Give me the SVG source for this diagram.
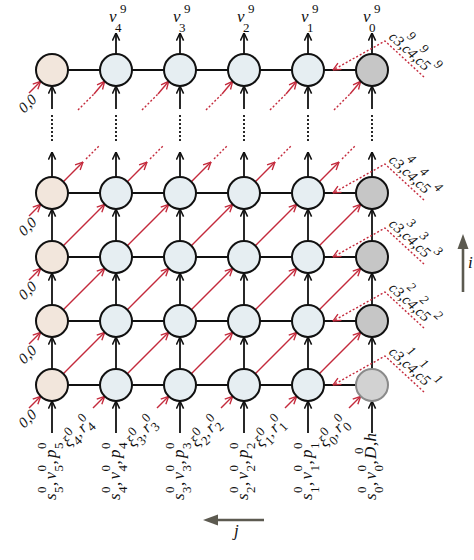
<svg xmlns="http://www.w3.org/2000/svg" width="474" height="560" viewBox="0 0 474 560">
<style>
.ln{stroke:#111;stroke-width:1.8;fill:none}
.dt{stroke:#111;stroke-width:1.8;fill:none;stroke-dasharray:2 2}
.ar{marker-end:url(#ah)}
.rd{stroke:#c42a3c;stroke-width:1.4;fill:none}
.rdd{stroke:#c42a3c;stroke-width:1.4;fill:none;stroke-dasharray:2 2}
.ra{marker-end:url(#rh)}
circle{stroke:#111;stroke-width:2}
.b{fill:#f2e6dc}.l{fill:#e6eef2}.g{fill:#c6c6c6}.gl{fill:#d2d2d2;stroke:#8a8a8a}
text{font-family:"Liberation Serif",serif;fill:#111}
.it{font-style:italic}
.m16{font-size:16px}
.m17{font-size:17px}
.sc{font-size:13px;font-style:normal}
.cl{font-size:15px;font-style:italic}
.cs{font-size:13px;font-style:italic}
.zz{font-size:15px;font-style:italic}
</style>
<defs>
<marker id="ah" viewBox="0 0 10 10" refX="9.5" refY="5" markerWidth="9" markerHeight="9" markerUnits="userSpaceOnUse" orient="auto"><path d="M1,1 L9.5,5 L1,9" fill="none" stroke="#111" stroke-width="1.7"/></marker>
<marker id="rh" viewBox="0 0 10 10" refX="9.5" refY="5" markerWidth="9" markerHeight="9" markerUnits="userSpaceOnUse" orient="auto"><path d="M1,1 L9.5,5 L1,9" fill="none" stroke="#c42a3c" stroke-width="1.5"/></marker>
</defs>
<rect width="474" height="560" fill="#fff"/>
<g id="connectors">
<line class="ln" x1="52" y1="70" x2="372" y2="70"/>
<line class="ln" x1="52" y1="193" x2="372" y2="193"/>
<line class="ln" x1="52" y1="257" x2="372" y2="257"/>
<line class="ln" x1="52" y1="321" x2="372" y2="321"/>
<line class="ln" x1="52" y1="385" x2="372" y2="385"/>
<line class="ln ar" x1="116" y1="54" x2="116" y2="33"/>
<line class="ln ar" x1="180" y1="54" x2="180" y2="33"/>
<line class="ln ar" x1="244" y1="54" x2="244" y2="33"/>
<line class="ln ar" x1="308" y1="54" x2="308" y2="33"/>
<line class="ln ar" x1="372" y1="54" x2="372" y2="33"/>
<g id="vcols">
<line class="ln ar" x1="52" y1="109" x2="52" y2="86"/><line class="dt" x1="52" y1="115" x2="52" y2="142"/><line class="ln ar" x1="52" y1="177" x2="52" y2="152"/>
<line class="ln ar" x1="116" y1="109" x2="116" y2="86"/><line class="dt" x1="116" y1="115" x2="116" y2="142"/><line class="ln ar" x1="116" y1="177" x2="116" y2="152"/>
<line class="ln ar" x1="180" y1="109" x2="180" y2="86"/><line class="dt" x1="180" y1="115" x2="180" y2="142"/><line class="ln ar" x1="180" y1="177" x2="180" y2="152"/>
<line class="ln ar" x1="244" y1="109" x2="244" y2="86"/><line class="dt" x1="244" y1="115" x2="244" y2="142"/><line class="ln ar" x1="244" y1="177" x2="244" y2="152"/>
<line class="ln ar" x1="308" y1="109" x2="308" y2="86"/><line class="dt" x1="308" y1="115" x2="308" y2="142"/><line class="ln ar" x1="308" y1="177" x2="308" y2="152"/>
<line class="ln ar" x1="372" y1="109" x2="372" y2="86"/><line class="dt" x1="372" y1="115" x2="372" y2="142"/><line class="ln ar" x1="372" y1="177" x2="372" y2="152"/>
</g>
<g id="vgrid">
<line class="ln ar" x1="52" y1="241" x2="52" y2="209"/><line class="ln ar" x1="52" y1="305" x2="52" y2="273"/><line class="ln ar" x1="52" y1="369" x2="52" y2="337"/><line class="ln ar" x1="52" y1="433" x2="52" y2="401"/>
<line class="ln ar" x1="116" y1="241" x2="116" y2="209"/><line class="ln ar" x1="116" y1="305" x2="116" y2="273"/><line class="ln ar" x1="116" y1="369" x2="116" y2="337"/><line class="ln ar" x1="116" y1="433" x2="116" y2="401"/>
<line class="ln ar" x1="180" y1="241" x2="180" y2="209"/><line class="ln ar" x1="180" y1="305" x2="180" y2="273"/><line class="ln ar" x1="180" y1="369" x2="180" y2="337"/><line class="ln ar" x1="180" y1="433" x2="180" y2="401"/>
<line class="ln ar" x1="244" y1="241" x2="244" y2="209"/><line class="ln ar" x1="244" y1="305" x2="244" y2="273"/><line class="ln ar" x1="244" y1="369" x2="244" y2="337"/><line class="ln ar" x1="244" y1="433" x2="244" y2="401"/>
<line class="ln ar" x1="308" y1="241" x2="308" y2="209"/><line class="ln ar" x1="308" y1="305" x2="308" y2="273"/><line class="ln ar" x1="308" y1="369" x2="308" y2="337"/><line class="ln ar" x1="308" y1="433" x2="308" y2="401"/>
<line class="ln ar" x1="372" y1="241" x2="372" y2="209"/><line class="ln ar" x1="372" y1="305" x2="372" y2="273"/><line class="ln ar" x1="372" y1="369" x2="372" y2="337"/><line class="ln ar" x1="372" y1="433" x2="372" y2="401"/>
</g>
<g id="diag">
<line class="rd ra" x1="63.3" y1="373.7" x2="104.7" y2="332.3"/><line class="rd ra" x1="127.3" y1="373.7" x2="168.7" y2="332.3"/><line class="rd ra" x1="191.3" y1="373.7" x2="232.7" y2="332.3"/><line class="rd ra" x1="255.3" y1="373.7" x2="296.7" y2="332.3"/><line class="rd ra" x1="319.3" y1="373.7" x2="360.7" y2="332.3"/>
<line class="rd ra" x1="63.3" y1="309.7" x2="104.7" y2="268.3"/><line class="rd ra" x1="127.3" y1="309.7" x2="168.7" y2="268.3"/><line class="rd ra" x1="191.3" y1="309.7" x2="232.7" y2="268.3"/><line class="rd ra" x1="255.3" y1="309.7" x2="296.7" y2="268.3"/><line class="rd ra" x1="319.3" y1="309.7" x2="360.7" y2="268.3"/>
<line class="rd ra" x1="63.3" y1="245.7" x2="104.7" y2="204.3"/><line class="rd ra" x1="127.3" y1="245.7" x2="168.7" y2="204.3"/><line class="rd ra" x1="191.3" y1="245.7" x2="232.7" y2="204.3"/><line class="rd ra" x1="255.3" y1="245.7" x2="296.7" y2="204.3"/><line class="rd ra" x1="319.3" y1="245.7" x2="360.7" y2="204.3"/>
<line class="rd ra" x1="63.3" y1="181.7" x2="83" y2="162"/><line class="rdd" x1="86" y1="159" x2="100" y2="145"/>
<line class="rd ra" x1="127.3" y1="181.7" x2="147" y2="162"/><line class="rdd" x1="150" y1="159" x2="164" y2="145"/>
<line class="rd ra" x1="191.3" y1="181.7" x2="211" y2="162"/><line class="rdd" x1="214" y1="159" x2="228" y2="145"/>
<line class="rd ra" x1="255.3" y1="181.7" x2="275" y2="162"/><line class="rdd" x1="278" y1="159" x2="292" y2="145"/>
<line class="rd ra" x1="319.3" y1="181.7" x2="339" y2="162"/><line class="rdd" x1="342" y1="159" x2="356" y2="145"/>
<line class="rd ra" x1="29" y1="93" x2="40.7" y2="81.3"/>
<line class="rdd" x1="78" y1="110" x2="94" y2="94"/><line class="rd ra" x1="94" y1="94" x2="104.7" y2="81.3"/>
<line class="rdd" x1="142" y1="110" x2="158" y2="94"/><line class="rd ra" x1="158" y1="94" x2="168.7" y2="81.3"/>
<line class="rdd" x1="206" y1="110" x2="222" y2="94"/><line class="rd ra" x1="222" y1="94" x2="232.7" y2="81.3"/>
<line class="rdd" x1="270" y1="110" x2="286" y2="94"/><line class="rd ra" x1="286" y1="94" x2="296.7" y2="81.3"/>
<line class="rdd" x1="334" y1="110" x2="350" y2="94"/><line class="rd ra" x1="350" y1="94" x2="360.7" y2="81.3"/>
<line class="rd ra" x1="29" y1="216" x2="40.7" y2="204.3"/>
<line class="rd ra" x1="29" y1="280" x2="40.7" y2="268.3"/>
<line class="rd ra" x1="29" y1="344" x2="40.7" y2="332.3"/>
<line class="rd ra" x1="29" y1="408" x2="40.7" y2="396.3"/>
<line class="rd ra" x1="93" y1="408" x2="104.7" y2="396.3"/>
<line class="rd ra" x1="157" y1="408" x2="168.7" y2="396.3"/>
<line class="rd ra" x1="221" y1="408" x2="232.7" y2="396.3"/>
<line class="rd ra" x1="285" y1="408" x2="296.7" y2="396.3"/>
<line class="rd ra" x1="349" y1="408" x2="360.7" y2="396.3"/>
</g>
<g id="cpaths">
<path class="rdd ra" d="M424,77 L385,41 L333,70"/>
<path class="rdd ra" d="M424,200 L385,164 L333,193"/>
<path class="rdd ra" d="M424,264 L385,228 L333,257"/>
<path class="rdd ra" d="M424,328 L385,292 L333,321"/>
<path class="rdd ra" d="M424,392 L385,356 L333,385"/>
</g>
<g id="axes" fill="#5c5a50" stroke="#5c5a50">
<line x1="463" y1="292" x2="463" y2="246" stroke-width="2.6"/>
<polygon points="463,234 457.5,249 468.5,249" stroke="none"/>
<line x1="264" y1="520" x2="215" y2="520" stroke-width="2.6"/>
<polygon points="203,520 218,514.5 218,525.5" stroke="none"/>
</g>
</g>
<g id="nodes">
<g id="n9_5"><circle class="b" cx="52" cy="70" r="16"/></g>
<g id="n9_4"><circle class="l" cx="116" cy="70" r="16"/></g>
<g id="n9_3"><circle class="l" cx="180" cy="70" r="16"/></g>
<g id="n9_2"><circle class="l" cx="244" cy="70" r="16"/></g>
<g id="n9_1"><circle class="l" cx="308" cy="70" r="16"/></g>
<g id="n9_0"><circle class="g" cx="372" cy="70" r="16"/></g>
<g id="n4_5"><circle class="b" cx="52" cy="193" r="16"/></g>
<g id="n4_4"><circle class="l" cx="116" cy="193" r="16"/></g>
<g id="n4_3"><circle class="l" cx="180" cy="193" r="16"/></g>
<g id="n4_2"><circle class="l" cx="244" cy="193" r="16"/></g>
<g id="n4_1"><circle class="l" cx="308" cy="193" r="16"/></g>
<g id="n4_0"><circle class="g" cx="372" cy="193" r="16"/></g>
<g id="n3_5"><circle class="b" cx="52" cy="257" r="16"/></g>
<g id="n3_4"><circle class="l" cx="116" cy="257" r="16"/></g>
<g id="n3_3"><circle class="l" cx="180" cy="257" r="16"/></g>
<g id="n3_2"><circle class="l" cx="244" cy="257" r="16"/></g>
<g id="n3_1"><circle class="l" cx="308" cy="257" r="16"/></g>
<g id="n3_0"><circle class="g" cx="372" cy="257" r="16"/></g>
<g id="n2_5"><circle class="b" cx="52" cy="321" r="16"/></g>
<g id="n2_4"><circle class="l" cx="116" cy="321" r="16"/></g>
<g id="n2_3"><circle class="l" cx="180" cy="321" r="16"/></g>
<g id="n2_2"><circle class="l" cx="244" cy="321" r="16"/></g>
<g id="n2_1"><circle class="l" cx="308" cy="321" r="16"/></g>
<g id="n2_0"><circle class="g" cx="372" cy="321" r="16"/></g>
<g id="n1_5"><circle class="b" cx="52" cy="385" r="16"/></g>
<g id="n1_4"><circle class="l" cx="116" cy="385" r="16"/></g>
<g id="n1_3"><circle class="l" cx="180" cy="385" r="16"/></g>
<g id="n1_2"><circle class="l" cx="244" cy="385" r="16"/></g>
<g id="n1_1"><circle class="l" cx="308" cy="385" r="16"/></g>
<g id="n1_0"><circle class="gl" cx="372" cy="385" r="16"/></g>
</g>
<g id="labels">
<text x="109" y="22" class="it m17">v</text><text x="115" y="32" class="sc">4</text><text x="120" y="13" class="sc">9</text>
<text x="173" y="22" class="it m17">v</text><text x="179" y="32" class="sc">3</text><text x="184" y="13" class="sc">9</text>
<text x="237" y="22" class="it m17">v</text><text x="243" y="32" class="sc">2</text><text x="248" y="13" class="sc">9</text>
<text x="301" y="22" class="it m17">v</text><text x="307" y="32" class="sc">1</text><text x="312" y="13" class="sc">9</text>
<text x="363" y="22" class="it m17">v</text><text x="369" y="32" class="sc">0</text><text x="374" y="13" class="sc">9</text>
<g transform="translate(388,38) rotate(42)"><text class="cl">c3,c4,c5</text><text x="13" y="-13" class="cs">9</text><text x="31" y="-12" class="cs">9</text><text x="52" y="-10" class="cs">9</text></g>
<g transform="translate(388,161) rotate(42)"><text class="cl">c3,c4,c5</text><text x="13" y="-13" class="cs">4</text><text x="31" y="-12" class="cs">4</text><text x="52" y="-10" class="cs">4</text></g>
<g transform="translate(388,225) rotate(42)"><text class="cl">c3,c4,c5</text><text x="13" y="-13" class="cs">3</text><text x="31" y="-12" class="cs">3</text><text x="52" y="-10" class="cs">3</text></g>
<g transform="translate(388,289) rotate(42)"><text class="cl">c3,c4,c5</text><text x="13" y="-13" class="cs">2</text><text x="31" y="-12" class="cs">2</text><text x="52" y="-10" class="cs">2</text></g>
<g transform="translate(388,353) rotate(42)"><text class="cl">c3,c4,c5</text><text x="13" y="-13" class="cs">1</text><text x="31" y="-12" class="cs">1</text><text x="52" y="-10" class="cs">1</text></g>
<g transform="translate(31,107) rotate(-45)"><text class="zz" text-anchor="middle">0,0</text></g>
<g transform="translate(31,230) rotate(-45)"><text class="zz" text-anchor="middle">0,0</text></g>
<g transform="translate(31,294) rotate(-45)"><text class="zz" text-anchor="middle">0,0</text></g>
<g transform="translate(31,358) rotate(-45)"><text class="zz" text-anchor="middle">0,0</text></g>
<g transform="translate(31,422) rotate(-45)"><text class="zz" text-anchor="middle">0,0</text></g>
<g transform="translate(69,448) rotate(-45)"><text class="it m16"><tspan x="0" y="0">ξ</tspan><tspan x="8" y="-8" class="sc">0</tspan><tspan x="8" y="5" class="sc">4</tspan><tspan x="15" y="0">,</tspan><tspan x="21" y="0">r</tspan><tspan x="27.5" y="-8" class="sc">0</tspan><tspan x="27.5" y="5" class="sc">4</tspan></text></g>
<g transform="translate(133,448) rotate(-45)"><text class="it m16"><tspan x="0" y="0">ξ</tspan><tspan x="8" y="-8" class="sc">0</tspan><tspan x="8" y="5" class="sc">3</tspan><tspan x="15" y="0">,</tspan><tspan x="21" y="0">r</tspan><tspan x="27.5" y="-8" class="sc">0</tspan><tspan x="27.5" y="5" class="sc">3</tspan></text></g>
<g transform="translate(197,448) rotate(-45)"><text class="it m16"><tspan x="0" y="0">ξ</tspan><tspan x="8" y="-8" class="sc">0</tspan><tspan x="8" y="5" class="sc">2</tspan><tspan x="15" y="0">,</tspan><tspan x="21" y="0">r</tspan><tspan x="27.5" y="-8" class="sc">0</tspan><tspan x="27.5" y="5" class="sc">2</tspan></text></g>
<g transform="translate(261,448) rotate(-45)"><text class="it m16"><tspan x="0" y="0">ξ</tspan><tspan x="8" y="-8" class="sc">0</tspan><tspan x="8" y="5" class="sc">1</tspan><tspan x="15" y="0">,</tspan><tspan x="21" y="0">r</tspan><tspan x="27.5" y="-8" class="sc">0</tspan><tspan x="27.5" y="5" class="sc">1</tspan></text></g>
<g transform="translate(325,448) rotate(-45)"><text class="it m16"><tspan x="0" y="0">ξ</tspan><tspan x="8" y="-8" class="sc">0</tspan><tspan x="8" y="5" class="sc">0</tspan><tspan x="15" y="0">,</tspan><tspan x="21" y="0">r</tspan><tspan x="27.5" y="-8" class="sc">0</tspan><tspan x="27.5" y="5" class="sc">0</tspan></text></g>
<g transform="translate(56,500) rotate(-90)"><text class="it m17"><tspan x="0" y="0">s</tspan><tspan x="7" y="-10" class="sc">0</tspan><tspan x="7" y="7" class="sc">5</tspan><tspan x="14" y="0">,</tspan><tspan x="20.5" y="0">v</tspan><tspan x="28.5" y="-10" class="sc">0</tspan><tspan x="28.5" y="7" class="sc">5</tspan><tspan x="35.5" y="0">,</tspan><tspan x="42" y="0">p</tspan><tspan x="51" y="-10" class="sc">0</tspan><tspan x="51" y="7" class="sc">5</tspan></text></g>
<g transform="translate(120,500) rotate(-90)"><text class="it m17"><tspan x="0" y="0">s</tspan><tspan x="7" y="-10" class="sc">0</tspan><tspan x="7" y="7" class="sc">4</tspan><tspan x="14" y="0">,</tspan><tspan x="20.5" y="0">v</tspan><tspan x="28.5" y="-10" class="sc">0</tspan><tspan x="28.5" y="7" class="sc">4</tspan><tspan x="35.5" y="0">,</tspan><tspan x="42" y="0">p</tspan><tspan x="51" y="-10" class="sc">0</tspan><tspan x="51" y="7" class="sc">4</tspan></text></g>
<g transform="translate(184,500) rotate(-90)"><text class="it m17"><tspan x="0" y="0">s</tspan><tspan x="7" y="-10" class="sc">0</tspan><tspan x="7" y="7" class="sc">3</tspan><tspan x="14" y="0">,</tspan><tspan x="20.5" y="0">v</tspan><tspan x="28.5" y="-10" class="sc">0</tspan><tspan x="28.5" y="7" class="sc">3</tspan><tspan x="35.5" y="0">,</tspan><tspan x="42" y="0">p</tspan><tspan x="51" y="-10" class="sc">0</tspan><tspan x="51" y="7" class="sc">3</tspan></text></g>
<g transform="translate(248,500) rotate(-90)"><text class="it m17"><tspan x="0" y="0">s</tspan><tspan x="7" y="-10" class="sc">0</tspan><tspan x="7" y="7" class="sc">2</tspan><tspan x="14" y="0">,</tspan><tspan x="20.5" y="0">v</tspan><tspan x="28.5" y="-10" class="sc">0</tspan><tspan x="28.5" y="7" class="sc">2</tspan><tspan x="35.5" y="0">,</tspan><tspan x="42" y="0">p</tspan><tspan x="51" y="-10" class="sc">0</tspan><tspan x="51" y="7" class="sc">2</tspan></text></g>
<g transform="translate(312,500) rotate(-90)"><text class="it m17"><tspan x="0" y="0">s</tspan><tspan x="7" y="-10" class="sc">0</tspan><tspan x="7" y="7" class="sc">1</tspan><tspan x="14" y="0">,</tspan><tspan x="20.5" y="0">v</tspan><tspan x="28.5" y="-10" class="sc">0</tspan><tspan x="28.5" y="7" class="sc">1</tspan><tspan x="35.5" y="0">,</tspan><tspan x="42" y="0">p</tspan><tspan x="51" y="-10" class="sc">0</tspan><tspan x="51" y="7" class="sc">1</tspan></text></g>
<g transform="translate(376,500) rotate(-90)"><text class="it m17"><tspan x="0" y="0">s</tspan><tspan x="7" y="-10" class="sc">0</tspan><tspan x="7" y="7" class="sc">0</tspan><tspan x="14" y="0">,</tspan><tspan x="20.5" y="0">v</tspan><tspan x="28.5" y="-10" class="sc">0</tspan><tspan x="28.5" y="7" class="sc">0</tspan><tspan x="35.5" y="0">,</tspan><tspan x="41" y="0">D</tspan><tspan x="46" y="-13" class="sc">0</tspan><tspan x="54" y="0">,</tspan><tspan x="58.5" y="0">h</tspan></text></g>
<text x="468" y="268" class="it m17">i</text>
<text x="234" y="536" class="it m17">j</text>
</g>
</svg>
